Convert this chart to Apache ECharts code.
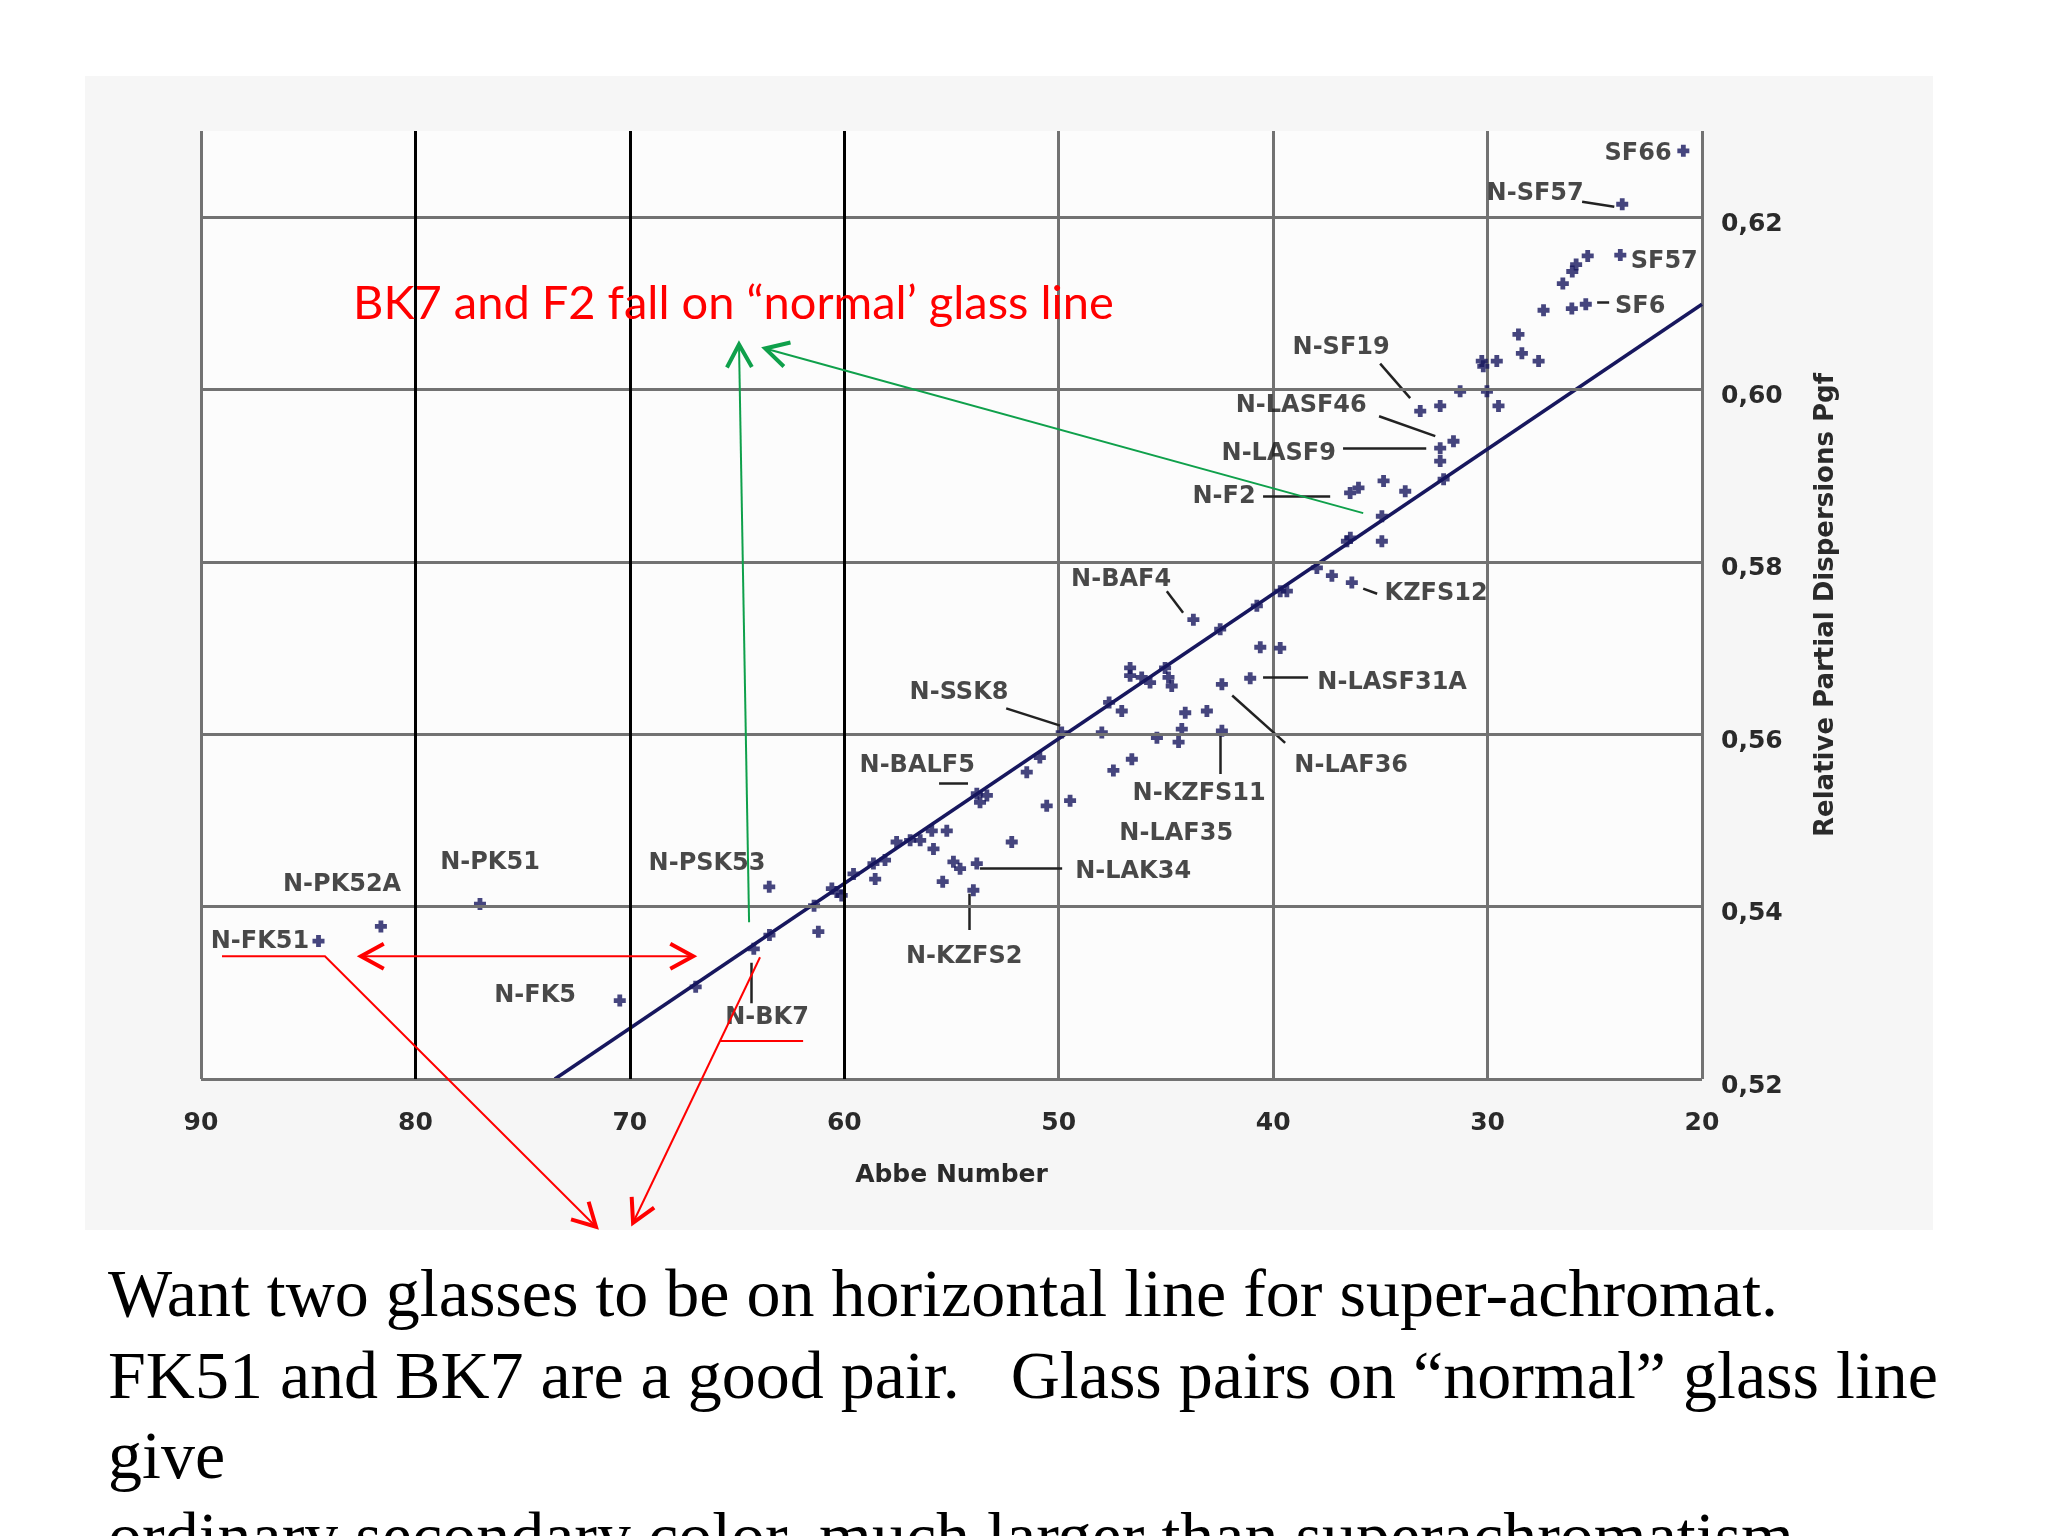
<!DOCTYPE html>
<html><head><meta charset="utf-8">
<script src="https://cdn.jsdelivr.net/npm/echarts@6/dist/echarts.min.js"></script>
<style>
html,body{margin:0;padding:0;background:#fff;overflow:hidden;}
#box{position:absolute;left:85px;top:76px;width:1848px;height:1154px;background:#f6f6f6;}
#chart{position:absolute;left:0;top:0;width:2048px;height:1536px;}
</style></head>
<body><div id="box"></div><div id="chart"></div>
<script>
// ---------- data ----------
const abbeNumber = [84.52,81.61,76.99,70.47,66.93,64.22,63.49,63.50,61.41,61.21,60.58,60.35,60.12,59.57,58.64,58.10,58.56,57.56,56.93,56.46,55.92,55.84,55.22,54.91,54.60,53.82,55.41,53.98,53.82,53.35,53.67,51.49,50.56,49.47,52.19,47.45,50.88,47.65,49.86,47.99,47.06,46.59,46.67,46.67,45.74,46.13,45.04,44.88,44.73,45.42,44.41,44.26,44.10,43.09,42.39,42.39,41.07,40.60,39.67,43.72,42.47,40.76,39.67,39.36,37.96,37.26,36.33,36.56,36.40,34.93,34.93,36.41,36.02,34.85,33.84,32.05,32.21,32.21,31.59,33.14,32.21,31.28,30.03,29.49,30.27,30.20,29.57,28.56,28.40,27.62,27.39,26.07,25.42,20.87,23.72,23.81,25.33,25.87,26.05,26.49];
const partialDispersion = [0.5360,0.5377,0.5403,0.5291,0.5307,0.5351,0.5367,0.5423,0.5401,0.5371,0.5421,0.5417,0.5413,0.5438,0.5450,0.5454,0.5432,0.5475,0.5477,0.5477,0.5488,0.5467,0.5488,0.5452,0.5444,0.5450,0.5429,0.5419,0.5531,0.5529,0.5521,0.5556,0.5517,0.5523,0.5475,0.5558,0.5573,0.5637,0.5602,0.5602,0.5627,0.5571,0.5677,0.5668,0.5660,0.5666,0.5677,0.5666,0.5656,0.5596,0.5591,0.5606,0.5625,0.5627,0.5658,0.5604,0.5665,0.5701,0.5700,0.5733,0.5722,0.5749,0.5766,0.5766,0.5793,0.5784,0.5776,0.5824,0.5828,0.5853,0.5824,0.5880,0.5886,0.5894,0.5882,0.5896,0.5932,0.5917,0.5940,0.5975,0.5981,0.5998,0.5998,0.5981,0.6033,0.6027,0.6033,0.6064,0.6042,0.6033,0.6092,0.6094,0.6099,0.6277,0.6215,0.6156,0.6155,0.6145,0.6137,0.6123];

// "normal" glass line end points
const normalLineAbbe = [73.5, 20];
const normalLinePgf = [0.52, 0.6099];

// tick values
const xTickValues = [90, 80, 70, 60, 50, 40, 30, 20];
const yTickValues = [0.52, 0.54, 0.56, 0.58, 0.60, 0.62];
const darkGridAbbe = [80, 70, 60];

// glass name labels (anchor in data units)
const labelNames = ['SF66','N-SF57','SF57','SF6','N-SF19','N-LASF46','N-LASF9','N-F2','N-BAF4','KZFS12','N-LASF31A','N-SSK8','N-LAF36','N-BALF5','N-KZFS11','N-LAF35','N-LAK34','N-KZFS2','N-PSK53','N-PK51','N-PK52A','N-FK51','N-FK5','N-BK7'];
const labelAbbe = [22.98,27.78,21.76,22.88,36.83,38.69,39.74,42.29,47.09,32.40,34.45,54.65,36.36,56.60,43.45,44.52,46.53,54.41,66.40,76.52,83.42,87.25,74.42,63.60];
const labelPgf = [0.6274,0.6227,0.6148,0.6096,0.6048,0.5981,0.5926,0.5876,0.5779,0.5763,0.5660,0.5648,0.5564,0.5564,0.5531,0.5485,0.5440,0.5342,0.5450,0.5451,0.5425,0.5359,0.5297,0.5271];

// leader lines (start / end in data units)
const leaderStart = [[25.59,0.6218],[24.89,0.6101],[35.01,0.6030],[35.06,0.5969],[36.74,0.5932],[40.47,0.5876],[44.96,0.5766],[35.80,0.5769],[40.47,0.5666],[41.91,0.5645],[52.45,0.5630],[55.58,0.5543],[42.47,0.5598],[53.67,0.5445],[54.18,0.5415],[64.35,0.5335]];
const leaderEnd = [[24.09,0.6212],[24.33,0.6101],[33.61,0.5990],[32.44,0.5946],[32.86,0.5932],[37.34,0.5876],[44.20,0.5741],[35.15,0.5763],[38.37,0.5666],[39.44,0.5590],[49.93,0.5610],[54.23,0.5543],[42.47,0.5554],[49.84,0.5445],[54.18,0.5373],[64.35,0.5288]];

// hand-drawn annotation arrows (data units), heads: 'end', 'both', 'none'
const greenArrows = [
  {path: [[64.44,0.53818],[64.91,0.60523]], head: 'end'},
  {path: [[35.80,0.58566],[63.69,0.60477]], head: 'end'}
];
const redArrows = [
  {path: [[82.54,0.53424],[67.05,0.53424]], head: 'both'},
  {path: [[89.02,0.53424],[84.22,0.53424],[71.58,0.50286]], head: 'end'},
  {path: [[65.79,0.5244],[61.92,0.5244]], head: 'none'},
  {path: [[63.93,0.53413],[69.85,0.50332]], head: 'end'}
];

const annotationTitle = 'BK7 and F2 fall on \u201cnormal\u2019 glass line';
const captionLines = [
  'Want two glasses to be on horizontal line for super-achromat.',
  'FK51 and BK7 are a good pair.   Glass pairs on \u201cnormal\u201d glass line',
  'give',
  'ordinary secondary color, much larger than superachromatism.'
];

// ---------- chart ----------
const chart = echarts.init(document.getElementById('chart'), null, {renderer: 'canvas'});
const NAVY = '#17175e';
const GRID_GRAY = '#727272';
const tickFont = {fontFamily: 'DejaVu Sans', fontWeight: 'bold', fontSize: 25, color: '#2a2a2a'};

const option = {
  backgroundColor: 'transparent',
  animation: false,
  grid: {left: 201, right: 346, top: 131, bottom: 457, show: true, backgroundColor: '#fcfcfc', borderWidth: 0},
  xAxis: {
    type: 'value', inverse: true, min: 20, max: 90, interval: 10,
    axisLine: {show: false}, axisTick: {show: false},
    splitLine: {show: true, lineStyle: {color: GRID_GRAY, width: 3}},
    axisLabel: Object.assign({margin: 32, formatter: v => xTickValues.includes(v) ? String(v) : ''}, tickFont),
    name: 'Abbe Number', nameLocation: 'middle', nameGap: 84,
    nameTextStyle: {fontFamily: 'DejaVu Sans', fontWeight: 'bold', fontSize: 25, color: '#2a2a2a'}
  },
  yAxis: {
    type: 'value', position: 'right', min: 0.52, max: 0.63, interval: 0.02,
    axisLine: {show: false}, axisTick: {show: false},
    splitLine: {show: false},
    axisLabel: Object.assign({margin: 19, verticalAlign: 'top', lineHeight: 14,
      formatter: v => yTickValues.some(t => Math.abs(t - v) < 1e-6) ? v.toFixed(2).replace('.', ',') : ''}, tickFont),
    name: 'Relative Partial Dispersions Pgf', nameLocation: 'middle', nameGap: 111, nameRotate: 90,
    nameTextStyle: {fontFamily: 'DejaVu Sans', fontWeight: 'bold', fontSize: 26, color: '#2a2a2a'}
  },
  series: [
    {
      type: 'line', z: 2, silent: true,
      data: normalLineAbbe.map((a, i) => [a, normalLinePgf[i]]),
      showSymbol: false, lineStyle: {color: NAVY, width: 3.5},
      markLine: {
        silent: true, symbol: 'none', label: {show: false}, animation: false,
        lineStyle: {color: GRID_GRAY, width: 3, type: 'solid'},
        data: yTickValues.map(v => ({yAxis: v}))
          .concat(darkGridAbbe.map(v => ({xAxis: v, lineStyle: {color: '#000', width: 3, type: 'solid'}})))
      }
    },
    {
      type: 'lines', coordinateSystem: 'cartesian2d', z: 3, silent: true,
      lineStyle: {color: '#222', width: 2.5, opacity: 1},
      data: leaderStart.map((s, i) => ({coords: [s, leaderEnd[i]]}))
    },
    {
      type: 'scatter', z: 4, silent: true,
      symbol: 'path://M3,0H7V3H10V7H7V10H3V7H0V3H3Z', symbolSize: 12,
      itemStyle: {color: NAVY},
      data: abbeNumber.map((a, i) => [a, partialDispersion[i]])
    },
    {
      type: 'scatter', z: 5, silent: true, symbolSize: 1,
      itemStyle: {color: 'transparent'},
      label: {show: true, position: 'inside', formatter: '{b}',
        fontFamily: 'DejaVu Sans', fontWeight: 'bold', fontSize: 24, color: '#1a1a1a'},
      data: labelNames.map((n, i) => ({name: n, value: [labelAbbe[i], labelPgf[i]]}))
    }
  ]
};
chart.setOption(option);

// ---------- annotations ----------
function toPx(p) { return chart.convertToPixel({xAxisIndex: 0, yAxisIndex: 0}, p); }
function headPoints(tip, prev, len, ang) {
  const dx = prev[0] - tip[0], dy = prev[1] - tip[1];
  const d = Math.hypot(dx, dy), ux = dx / d, uy = dy / d;
  const c = Math.cos(ang), s = Math.sin(ang);
  return [
    [tip[0] + len * (ux * c - uy * s), tip[1] + len * (ux * s + uy * c)],
    tip,
    [tip[0] + len * (ux * c + uy * s), tip[1] + len * (-ux * s + uy * c)]
  ];
}
const graphics = [];
function addArrow(a, color) {
  const pts = a.path.map(toPx);
  graphics.push({type: 'polyline', z: 50, silent: true, shape: {points: pts},
    style: {stroke: color, lineWidth: 2, fill: null}});
  if (a.head === 'end' || a.head === 'both') {
    graphics.push({type: 'polyline', z: 51, silent: true,
      shape: {points: headPoints(pts[pts.length - 1], pts[pts.length - 2], 26, 0.5)},
      style: {stroke: color, lineWidth: 4, fill: null}});
  }
  if (a.head === 'both') {
    graphics.push({type: 'polyline', z: 51, silent: true,
      shape: {points: headPoints(pts[0], pts[1], 26, 0.5)},
      style: {stroke: color, lineWidth: 4, fill: null}});
  }
}
greenArrows.forEach(a => addArrow(a, '#0fa04b'));
redArrows.forEach(a => addArrow(a, '#ff0000'));

graphics.push({type: 'text', z: 60, silent: true, x: 353, y: 304,
  style: {text: annotationTitle, fill: '#ff0000', fontFamily: 'Lato', fontSize: 47, align: 'left', verticalAlign: 'middle'}});

const captionBaselines = [1318, 1400, 1480, 1561];
captionLines.forEach((t, i) => {
  graphics.push({type: 'text', z: 60, silent: true, x: 108, y: captionBaselines[i] - 20,
    style: {text: t, fill: '#000', fontFamily: 'Liberation Serif', fontSize: 68, align: 'left', verticalAlign: 'middle'}});
});
chart.setOption({graphic: {elements: graphics}});
</script>
</body></html>
